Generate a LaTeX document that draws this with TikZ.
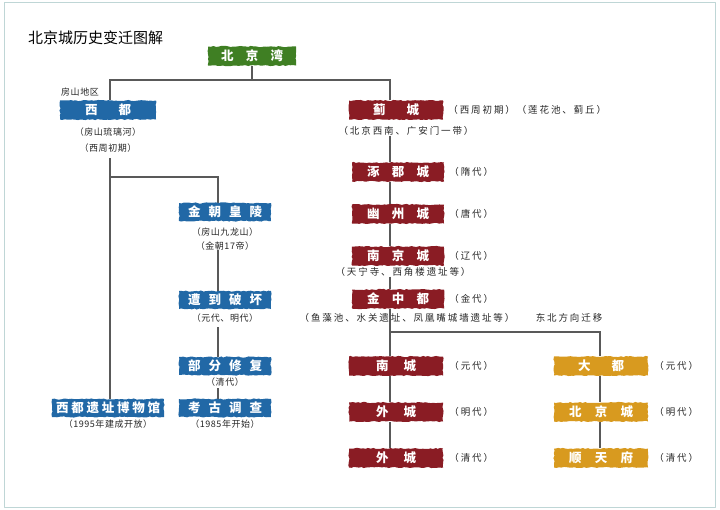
\documentclass[tikz,border=0pt]{standalone}
\usepackage{fontspec}
\setmainfont{Noto Sans CJK SC}
\newfontfamily\boxfont{Noto Sans CJK SC}
\newfontfamily\notefont{Noto Sans CJK SC}[LetterSpace=6]
\newfontfamily\widefont{Noto Sans CJK SC}[LetterSpace=20]
\usetikzlibrary{positioning,backgrounds,decorations.pathmorphing}
\definecolor{bjgreen}{HTML}{3F7F23}
\definecolor{bjblue}{HTML}{2168A6}
\definecolor{bjred}{HTML}{8A1C24}
\definecolor{bjgold}{HTML}{D89A1F}
\definecolor{frame}{HTML}{BFD6D6}
\tikzset{
  every picture/.style={line join=round, line cap=round},
  stage/.style={fill=#1, text=white, minimum width=94pt, minimum height=19pt, inner sep=0pt,
    font=\boxfont\bfseries\fontsize{12.5}{12.5}\selectfont,
    decorate, decoration={random steps, segment length=2.5pt, amplitude=0.6pt}},
  span/.style={text width=#1},
  note/.style={font=\notefont\fontsize{9}{9}\selectfont, text=black!85, inner sep=0pt},
  wide/.style={note, font=\widefont\fontsize{9.5}{9.5}\selectfont},
  link/.style={draw=black!65, line width=1.2pt},
}
\begin{document}
\begin{tikzpicture}[x=1pt,y=-1pt]
\useasboundingbox (0,0) rectangle (720,509);
\draw[frame, line width=0.8pt] (4,2) rectangle (715,507);
\node[anchor=west, inner sep=0pt, font=\fontsize{15}{15}\selectfont] (title) at (28,38) {北京城历史变迁图解};

% root
\node[stage=bjgreen, minimum width=88pt, span=62pt] (bjw) at (252,56) {北\hfill 京\hfill 湾};
\coordinate (lt) at (110,80);
\coordinate (rt) at (390,80);

% left branch
\node[note] (fsdq) at (80,92) {房山地区};
\node[stage=bjblue, minimum width=96pt, span=46pt] (xidu) at (108,110) {西\hfill 都};
\node[note] (xidu1) at (108,132) {（房山琉璃河）};
\node[note] (xidu2) at (108,148) {（西周初期）};
\coordinate (lb) at (110,158);
\coordinate (lfork) at (110,177);
\node[stage=bjblue, minimum width=112pt, minimum height=18pt, span=104pt] (bwg) at (108,408) {西\hfill 都\hfill 遗\hfill 址\hfill 博\hfill 物\hfill 馆};
\node[note] (bwg1) at (108,424) {（1995年建成开放）};

\node[stage=bjblue, minimum width=92pt, minimum height=18pt, span=74pt] (jinling) at (225,212) {金\hfill 朝\hfill 皇\hfill 陵};
\node[note] (jinling1) at (225,232) {（房山九龙山）};
\node[note] (jinling2) at (225,246) {（金朝17帝）};
\node[stage=bjblue, minimum width=92pt, minimum height=18pt, span=74pt] (pohuai) at (225,300) {遭\hfill 到\hfill 破\hfill 坏};
\node[note] (pohuai1) at (225,318) {（元代、明代）};
\node[stage=bjblue, minimum width=92pt, minimum height=18pt, span=74pt] (xiufu) at (225,366) {部\hfill 分\hfill 修\hfill 复};
\node[note] (xiufu1) at (225,382) {（清代）};
\node[stage=bjblue, minimum width=92pt, minimum height=18pt, span=74pt] (kaogu) at (225,408) {考\hfill 古\hfill 调\hfill 查};
\node[note] (kaogu1) at (225,424) {（1985年开始）};

% right branch
\node[stage=bjred, span=46pt] (jicheng) at (396,110) {蓟\hfill 城};
\node[wide, right=5pt of jicheng] (jicheng1) {（西周初期）（莲花池、蓟丘）};
\node[wide] (jicheng2) at (406,131) {（北京西南、广安门一带）};
\node[stage=bjred, minimum width=92pt, span=62pt] (zhuojun) at (398,172) {涿\hfill 郡\hfill 城};
\node[wide, right=5pt of zhuojun] (zhuojun1) {（隋代）};
\node[stage=bjred, minimum width=92pt, span=62pt] (youzhou) at (398,214) {幽\hfill 州\hfill 城};
\node[wide, right=5pt of youzhou] (youzhou1) {（唐代）};
\node[stage=bjred, minimum width=92pt, span=62pt] (nanjing) at (398,256) {南\hfill 京\hfill 城};
\node[wide, right=5pt of nanjing] (nanjing1) {（辽代）};
\node[wide] (nanjing2) at (403,272) {（天宁寺、西角楼遗址等）};
\node[stage=bjred, minimum width=92pt, span=62pt] (zhongdu) at (398,299) {金\hfill 中\hfill 都};
\node[wide, right=5pt of zhongdu] (zhongdu1) {（金代）};
\node[wide] (zhongdu2) at (407,318) {（鱼藻池、水关遗址、凤凰嘴城墙遗址等）};
\node[wide] (qianyi) at (569,318) {东北方向迁移};
\coordinate (rsplit) at (390,332);
\coordinate (rfar) at (600,332);

\node[stage=bjred, span=40pt] (nancheng) at (396,366) {南\hfill 城};
\node[wide, right=6pt of nancheng] (nancheng1) {（元代）};
\node[stage=bjred, span=40pt] (waicheng) at (396,412) {外\hfill 城};
\node[wide, right=6pt of waicheng] (waicheng1) {（明代）};
\node[stage=bjred, span=40pt] (waichengq) at (396,458) {外\hfill 城};
\node[wide, right=6pt of waichengq] (waichengq1) {（清代）};

\node[stage=bjgold, span=46pt] (dadu) at (601,366) {大\hfill 都};
\node[wide, right=6pt of dadu] (dadu1) {（元代）};
\node[stage=bjgold, span=64pt] (bjc) at (601,412) {北\hfill 京\hfill 城};
\node[wide, right=6pt of bjc] (bjc1) {（明代）};
\node[stage=bjgold, span=64pt] (shuntian) at (601,458) {顺\hfill 天\hfill 府};
\node[wide, right=6pt of shuntian] (shuntian1) {（清代）};

% connectors
\begin{scope}[on background layer]
\draw[link] (bjw) -- (bjw |- lt);
\draw[link] (xidu.north -| lt) -- (lt) -- (rt) -- (jicheng.north -| rt);
\draw[link] (lb) -- (bwg.north -| lb);
\draw[link] (lfork) -| ([xshift=-7pt]jinling.north);
\draw[link] ([xshift=-7pt]jinling2.south -| jinling.south) -- ([xshift=-7pt]pohuai.north);
\draw[link] ([xshift=-7pt]pohuai1.south -| pohuai.south) ++(0,5) -- ([xshift=-7pt]xiufu.north);
\draw[link] ([xshift=-7pt]xiufu1.south -| xiufu.south) ++(0,2) -- ([xshift=-7pt]kaogu.north);
\draw[link] (jicheng2.south -| rt) -- (zhuojun.north -| rt);
\draw[link] (zhuojun.south -| rt) -- (youzhou.north -| rt);
\draw[link] (youzhou.south -| rt) -- (nanjing.north -| rt);
\draw[link] (nanjing2.south -| rt) -- (zhongdu.north -| rt);
\draw[link] (zhongdu.south -| rt) -- (rsplit) -- (rfar) -- (dadu.north -| rfar);
\draw[link] (rsplit) -- (nancheng.north -| rsplit);
\draw[link] (nancheng.south -| rsplit) -- (waicheng.north -| rsplit);
\draw[link] (waicheng.south -| rsplit) -- (waichengq.north -| rsplit);
\draw[link] (dadu.south -| rfar) -- (bjc.north -| rfar);
\draw[link] (bjc.south -| rfar) -- (shuntian.north -| rfar);
\end{scope}
\end{tikzpicture}
\end{document}
